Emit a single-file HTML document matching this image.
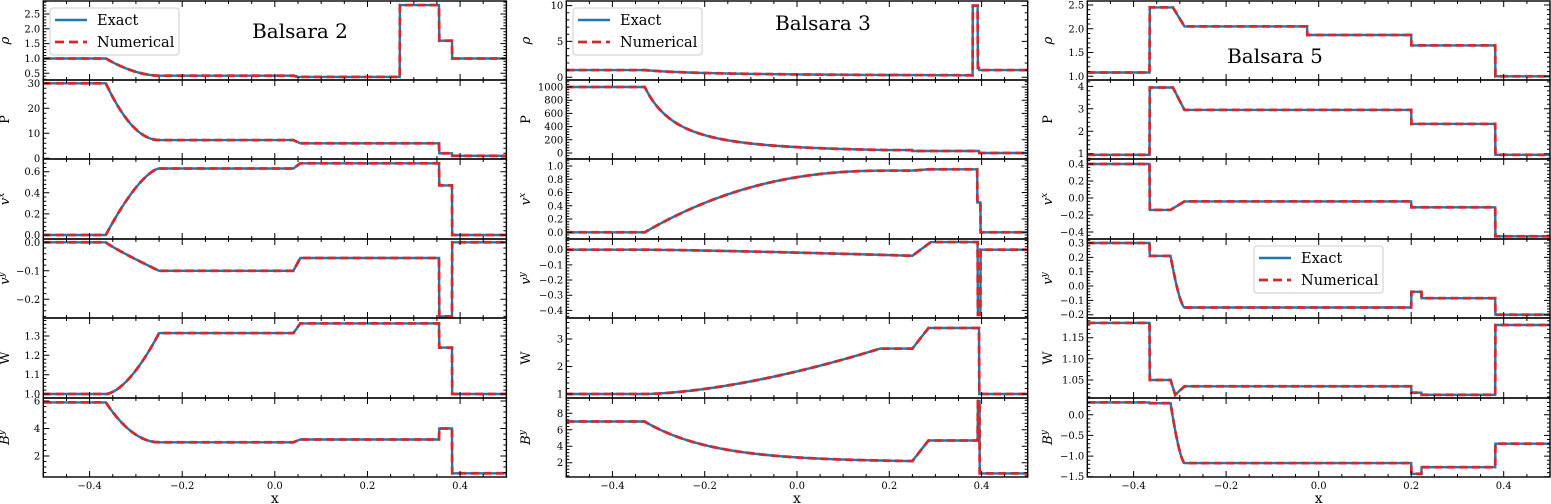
<!DOCTYPE html>
<html><head><meta charset="utf-8"><style>
html,body{margin:0;padding:0;background:#fff;}
svg{display:block;}
text{font-family:"DejaVu Serif","Liberation Serif",serif;fill:#000;}
</style></head><body>
<svg id="s" width="1551" height="504" xmlns="http://www.w3.org/2000/svg"></svg>
<script>
const S=document.getElementById('s');let out='';
const PT=[1,80,159,239,318,398,477];
function pw(a,b,x){return Math.min(1,Math.max(0,(x-a)/(b-a)));}
function fmt(v,d){let s=v.toFixed(d);if(v<-1e-9)s='\u2212'+s.slice(1);if(s==='\u22120'||s==='\u22120.0')s=s.slice(1);return s;}
const cols=[
{L:43.3,R:506.4,title:'Balsara 2',tx:300,ty:38,ylx:5,leg:[50,8],
panels:[
 {lab:'ρ',y0:73.3,v0:0.5,sc:29.66,maj:[0.5,1,1.5,2,2.5],d:1,mn:0.1,f:x=>{if(x<-0.365)return 1;if(x<-0.25){let t=pw(-0.365,-0.25,x);return 0.42+0.58*Math.pow(1-t,1.8);}if(x<0.04)return 0.42;if(x<0.05)return 0.42-0.04*pw(0.04,0.05,x);if(x<0.27)return 0.38;if(x<0.355)return 2.8;if(x<0.383)return 1.6;return 1.0;}},
 {lab:'P',y0:158.3,v0:0,sc:2.5,maj:[0,10,20,30],d:0,mn:2,f:x=>{if(x<-0.365)return 30;if(x<-0.25){let t=pw(-0.365,-0.25,x);return 7.3+22.7*Math.pow(1-t,2);}if(x<0.04)return 7.3;if(x<0.055)return 7.3-1.3*pw(0.04,0.055,x);if(x<0.355)return 6;if(x<0.383)return 2;return 1;}},
 {lab:'v',sup:'x',y0:235,v0:0,sc:105.5,maj:[0,0.2,0.4,0.6],d:1,mn:0.04,f:x=>{if(x<-0.365)return 0;if(x<-0.25){let t=pw(-0.365,-0.25,x);return 0.63*(1-Math.pow(1-t,1.5));}if(x<0.04)return 0.63;if(x<0.055)return 0.63+0.05*pw(0.04,0.055,x);if(x<0.355)return 0.68;if(x<0.383)return 0.47;return 0;}},
 {lab:'v',sup:'y',y0:242.3,v0:0,sc:285,maj:[0,-0.1,-0.2],d:1,mn:0.02,f:x=>{if(x<-0.365)return 0;if(x<-0.25){let t=pw(-0.365,-0.25,x);return -0.1*Math.pow(t,0.9);}if(x<0.04)return -0.1;if(x<0.055)return -0.1+0.045*pw(0.04,0.055,x);if(x<0.355)return -0.055;if(x<0.383)return -0.26;return 0;}},
 {lab:'W',y0:394,v0:1,sc:193.3,maj:[1,1.1,1.2,1.3],d:1,mn:0.02,f:x=>{if(x<-0.365)return 1;if(x<-0.25){let t=pw(-0.365,-0.25,x);return 1+0.315*Math.pow(t,1.65);}if(x<0.04)return 1.315;if(x<0.055)return 1.315+0.05*pw(0.04,0.055,x);if(x<0.355)return 1.365;if(x<0.383)return 1.24;return 1;}},
 {lab:'B',sup:'y',y0:456,v0:2,sc:13.75,maj:[2,4,6],d:0,mn:0.4,f:x=>{if(x<-0.365)return 5.9;if(x<-0.25){let t=pw(-0.365,-0.25,x);return 3.0+2.9*Math.pow(1-t,2);}if(x<0.04)return 3.0;if(x<0.055)return 3.0+0.2*pw(0.04,0.055,x);if(x<0.355)return 3.2;if(x<0.383)return 4.0;return 0.74;}}
]},
{L:566.3,R:1027.7,title:'Balsara 3',tx:823,ty:30,ylx:526,leg:[573,8],
panels:[
 {lab:'ρ',y0:77.3,v0:0,sc:7.17,maj:[0,5,10],d:0,mn:1,f:x=>{if(x<-0.33)return 1;if(x<0.381){let t=pw(-0.33,0.381,x);return 0.15+0.85/Math.pow(1+3.77*t,1.2);}if(x<0.392)return 10;if(x<0.395)return 1.3;return 1;}},
 {lab:'P',y0:153,v0:0,sc:0.066,maj:[0,200,400,600,800,1000],d:0,mn:40,f:x=>{if(x<-0.33)return 1000;if(x<0.25){let t=pw(-0.33,0.2,x);return 1000/Math.pow(1+3.77*t,2);}if(x<0.395)return 30;return 0.1;}},
 {lab:'v',sup:'x',y0:232.3,v0:0,sc:66.3,maj:[0,0.2,0.4,0.6,0.8,1.0],d:1,mn:0.04,f:x=>{if(x<-0.33)return 0;if(x<0.2){let t=pw(-0.33,0.2,x);return 0.93*(1-Math.pow(1-t,2.3));}if(x<0.25)return 0.93;if(x<0.285)return 0.93+0.02*pw(0.25,0.285,x);if(x<0.391)return 0.95;if(x<0.398)return 0.45;return 0;}},
 {lab:'v',sup:'y',y0:249.7,v0:0,sc:151.7,maj:[0,-0.1,-0.2,-0.3,-0.4],d:1,mn:0.02,f:x=>{if(x<-0.33)return 0;if(x<0.25){let t=pw(-0.33,0.25,x);return -0.04*Math.pow(t,1.3);}if(x<0.29){let t=pw(0.25,0.29,x);return -0.04+0.09*t;}if(x<0.392)return 0.05;if(x<0.398)return -0.43;return 0;}},
 {lab:'W',y0:394,v0:1,sc:27.5,maj:[1,2,3],d:0,mn:0.2,f:x=>{if(x<-0.33)return 1;if(x<0.18){let t=pw(-0.33,0.18,x);return 1+1.65*Math.pow(t,1.6);}if(x<0.25)return 2.65;if(x<0.285)return 2.65+0.75*pw(0.25,0.285,x);if(x<0.395)return 3.4;return 1;}},
 {lab:'B',sup:'y',y0:462.7,v0:2,sc:8.23,maj:[2,4,6,8],d:0,mn:0.4,f:x=>{if(x<-0.33)return 7;if(x<0.25){let t=pw(-0.33,0.25,x);return 2.2+4.8*(Math.exp(-4*t)-Math.exp(-4)*t);}if(x<0.285)return 2.2+2.5*pw(0.25,0.285,x);if(x<0.392)return 4.7;if(x<0.396)return 9.5;return 0.7;}}
]},
{L:1087.3,R:1550,title:'Balsara 5',tx:1275,ty:63,ylx:1048,leg:[1254,246],
panels:[
 {lab:'ρ',y0:76.3,v0:1,sc:47.5,maj:[1,1.5,2,2.5],d:1,mn:0.1,f:x=>{if(x<-0.365)return 1.08;if(x<-0.315)return 2.45;if(x<-0.29)return 2.45-0.4*pw(-0.315,-0.29,x);if(x<-0.025)return 2.05;if(x<0.2)return 1.87;if(x<0.382)return 1.65;return 1.0;}},
 {lab:'P',y0:153.7,v0:1,sc:22.44,maj:[1,2,3,4],d:0,mn:0.2,f:x=>{if(x<-0.365)return 0.95;if(x<-0.315)return 3.95;if(x<-0.29)return 3.95-1.0*pw(-0.315,-0.29,x);if(x<0.2)return 2.95;if(x<0.382)return 2.33;return 0.95;}},
 {lab:'v',sup:'x',y0:232,v0:-0.4,sc:85,maj:[-0.4,-0.2,0,0.2,0.4],d:1,mn:0.04,f:x=>{if(x<-0.365)return 0.4;if(x<-0.32)return -0.14;if(x<-0.29)return -0.14+0.1*pw(-0.32,-0.29,x);if(x<0.2)return -0.04;if(x<0.382)return -0.11;return -0.45;}},
 {lab:'v',sup:'y',y0:314.7,v0:-0.2,sc:143.3,maj:[-0.2,-0.1,0,0.1,0.2,0.3],d:1,mn:0.02,f:x=>{if(x<-0.365)return 0.3;if(x<-0.32)return 0.21;if(x<-0.29){let t=pw(-0.32,-0.29,x);return 0.21-0.36*(1-Math.pow(1-t,1.5));}if(x<0.2)return -0.15;if(x<0.222)return -0.04;if(x<0.382)return -0.085;return -0.2;}},
 {lab:'W',y0:380,v0:1.05,sc:423,maj:[1.05,1.1,1.15],d:2,mn:0.01,f:x=>{if(x<-0.365)return 1.185;if(x<-0.32)return 1.05;if(x<-0.31)return 1.05-0.035*pw(-0.32,-0.31,x);if(x<-0.29)return 1.015+0.02*pw(-0.31,-0.29,x);if(x<0.2)return 1.035;if(x<0.222)return 1.02;if(x<0.382)return 1.015;return 1.18;}},
 {lab:'B',sup:'y',y0:476.7,v0:-1.5,sc:41.3,maj:[-1.5,-1,-0.5,0],d:1,mn:0.1,f:x=>{if(x<-0.365)return 0.3;if(x<-0.32)return 0.28;if(x<-0.29){let t=pw(-0.32,-0.29,x);return 0.28-1.45*(1-Math.pow(1-t,1.5));}if(x<0.2)return -1.17;if(x<0.222)return -1.43;if(x<0.382)return -1.27;return -0.7;}}
]}
];
cols.forEach((c,ci)=>{
 const sx=(c.R-c.L);const X=x=>c.L+(x+0.5)*sx;
 c.panels.forEach((p,pi)=>{
  const top=PT[pi],bot=PT[pi+1];const Y=v=>p.y0-(v-p.v0)*p.sc;
  const cid='c'+ci+'_'+pi;
  out+=`<clipPath id="${cid}"><rect x="${c.L}" y="${top}" width="${sx}" height="${bot-top}"/></clipPath>`;
  let pts=[];for(let i=0;i<=2000;i++){let x=-0.5+i/2000;pts.push(X(x).toFixed(1)+','+Y(p.f(x)).toFixed(1));}
  let ps=pts.join(' ');
  out+=`<g clip-path="url(#${cid})"><polyline points="${ps}" fill="none" stroke="#1f77b4" stroke-width="2.4" stroke-linejoin="miter"/>`;
  out+=`<polyline points="${ps}" fill="none" stroke="#d62728" stroke-width="2.8" stroke-dasharray="8,4.5" opacity="0.95"/></g>`;
  let tk='';
  for(let i=0;i<=20;i++){let x=-0.5+i*0.05;let px=X(x);let major=(i%4===2);let l=major?6:3;
   tk+=`M${px.toFixed(1)},${bot}v-${l}M${px.toFixed(1)},${top}v${l}`;}
  let vmin=p.v0-(bot-p.y0)/p.sc,vmax=p.v0+(p.y0-top)/p.sc;
  let k0=Math.ceil(vmin/p.mn-1e-6),k1=Math.floor(vmax/p.mn+1e-6);
  for(let k=k0;k<=k1;k++){let py=Y(k*p.mn);tk+=`M${c.L},${py.toFixed(1)}h3M${c.R},${py.toFixed(1)}h-3`;}
  p.maj.forEach(v=>{let py=Y(v);tk+=`M${c.L},${py.toFixed(1)}h6M${c.R},${py.toFixed(1)}h-6`;
   out+=`<text x="${c.L-3}" y="${(py+3.5).toFixed(1)}" font-size="10" text-anchor="end">${fmt(v,p.d)}</text>`;});
  out+=`<path d="${tk}" stroke="#000" stroke-width="1" fill="none"/>`;
  out+=`<rect x="${c.L}" y="${top}" width="${sx}" height="${bot-top}" fill="none" stroke="#000" stroke-width="1.4"/>`;
  let cy=(top+bot)/2;
  let lab=p.sup?`<tspan font-style="italic">${p.lab}</tspan><tspan font-style="italic" font-size="9" dy="-5">${p.sup}</tspan>`:(p.lab==='ρ'?`<tspan font-style="italic">ρ</tspan>`:p.lab);
  out+=`<text transform="translate(${c.ylx+4},${cy}) rotate(-90)" font-size="13" text-anchor="middle">${lab}</text>`;
 });
 [-0.4,-0.2,0,0.2,0.4].forEach(v=>{out+=`<text x="${X(v)}" y="489" font-size="10" text-anchor="middle">${fmt(v,1)}</text>`;});
 out+=`<text x="${(c.L+c.R)/2}" y="503" font-size="14" text-anchor="middle">x</text>`;
 out+=`<text x="${c.tx}" y="${c.ty}" font-size="20" text-anchor="middle">${c.title}</text>`;
 let [lx,ly]=c.leg;
 out+=`<rect x="${lx}" y="${ly}" width="129" height="47" rx="3" fill="#fff" fill-opacity="0.8" stroke="#ccc" stroke-width="1"/>`;
 out+=`<line x1="${lx+5}" y1="${ly+12}" x2="${lx+37}" y2="${ly+12}" stroke="#1f77b4" stroke-width="2.4"/>`;
 out+=`<line x1="${lx+5}" y1="${ly+34}" x2="${lx+37}" y2="${ly+34}" stroke="#d62728" stroke-width="2.8" stroke-dasharray="9,5"/>`;
 out+=`<text x="${lx+47}" y="${ly+17}" font-size="14.5">Exact</text>`;
 out+=`<text x="${lx+47}" y="${ly+39}" font-size="14.5">Numerical</text>`;
});
S.innerHTML=out;
</script>
</body></html>
